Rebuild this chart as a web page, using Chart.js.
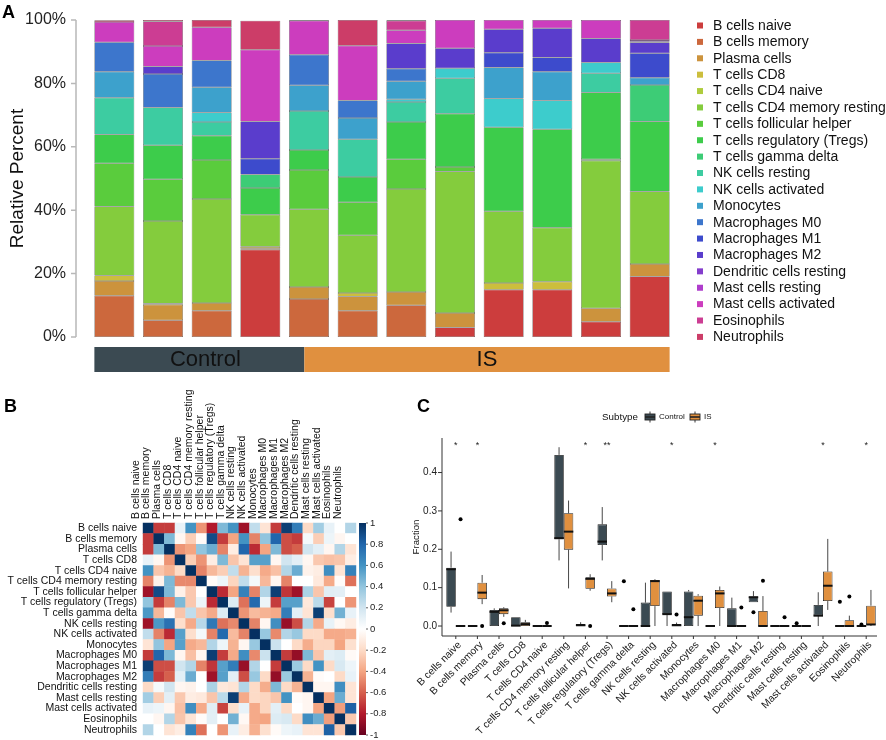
<!DOCTYPE html>
<html>
<head>
<meta charset="utf-8">
<script src="https://cdn.jsdelivr.net/npm/chart.js@4.4.1/dist/chart.umd.min.js"></script>
<style>
  body { margin: 0; background: #fff; overflow: hidden; width: 886px; height: 740px; position: relative; }
  canvas { position: absolute; }
  .tag { position: absolute; font: bold 18px 'Liberation Sans', Arial, sans-serif; line-height: 18px; color: #000; }
</style>
</head>
<body>
<canvas id="barChart" width="886" height="380" style="left:0;top:0"></canvas>
<canvas id="corrChart" width="400" height="360" style="left:0;top:380px"></canvas>
<canvas id="boxChart" width="486" height="360" style="left:400px;top:380px"></canvas>
<div class="tag" style="left:2px;top:3px">A</div>
<div class="tag" style="left:4px;top:397px">B</div>
<div class="tag" style="left:417px;top:397px">C</div>
<script>
const fontFam = "'Liberation Sans', Arial, Helvetica, sans-serif";

const cellTypes = ['B cells naive', 'B cells memory', 'Plasma cells', 'T cells CD8', 'T cells CD4 naive',
  'T cells CD4 memory resting', 'T cells follicular helper', 'T cells regulatory (Tregs)', 'T cells gamma delta',
  'NK cells resting', 'NK cells activated', 'Monocytes', 'Macrophages M0', 'Macrophages M1', 'Macrophages M2',
  'Dendritic cells resting', 'Mast cells resting', 'Mast cells activated', 'Eosinophils', 'Neutrophils'];

const samples = ['Control 1', 'Control 2', 'Control 3', 'Control 4', 'IS 1', 'IS 2', 'IS 3', 'IS 4', 'IS 5', 'IS 6', 'IS 7', 'IS 8'];
const groupNames = ['Control', 'IS'];

// panel A: relative percent of each cell type, one value per sample (left to right)
const bNaive        = [0, 0, 0, 27.5, 0, 0, 0, 3.0, 14.9, 14.9, 4.8, 19.1];
const bMemory       = [13.0, 5.3, 8.3, 0, 12.0, 8.3, 10.0, 0, 0, 0, 0, 0];
const plasma        = [4.7, 4.9, 2.4, 0.5, 3.8, 4.5, 4.2, 4.6, 0, 0, 4.3, 3.9];
const tCD8          = [1.7, 0.4, 0, 0.5, 0, 1.1, 0, 0, 2.1, 2.5, 0, 0];
const tCD4Naive     = [0, 0, 0, 0, 0, 0, 0, 0, 0, 0, 0, 0];
const tCD4MemRest   = [21.8, 26.0, 32.8, 10.1, 24.5, 18.2, 32.5, 44.6, 22.7, 17.1, 46.5, 22.9];
const tFollicular   = [13.6, 13.2, 12.3, 0, 12.4, 10.4, 9.4, 1.4, 0, 0, 0.5, 0];
const tRegs         = [9.1, 10.7, 7.7, 8.4, 6.3, 8.0, 11.7, 16.8, 26.5, 31.0, 21.0, 22.1];
const tGammaDelta   = [0, 0, 0, 4.3, 0, 0, 0, 0, 0, 0, 0, 11.5];
const nkResting     = [11.6, 11.9, 4.3, 0, 12.3, 11.9, 6.3, 11.2, 0, 0, 6.1, 0];
const nkActivated   = [0, 0, 3.0, 0, 0, 0, 0.9, 3.2, 9.0, 9.1, 3.4, 0];
const monocytes     = [8.2, 0, 8.0, 0, 8.1, 6.7, 5.7, 0, 9.8, 9.1, 0, 2.3];
const macM0         = [9.3, 10.6, 8.4, 0, 9.6, 5.5, 3.9, 0, 0, 0, 0, 0];
const macM1         = [0, 0, 0, 4.9, 0, 0, 0, 0, 4.7, 4.5, 0, 7.7];
const macM2         = [0, 2.3, 0, 11.8, 0, 0, 8.0, 6.3, 7.4, 9.2, 7.6, 3.4];
const dcResting     = [0, 0, 0, 0, 0, 0, 0, 0, 0, 0, 0, 0.4];
const mastResting   = [0, 0, 0, 0, 0, 0, 0, 0, 0, 0, 0, 0.4];
const mastActivated = [6.4, 6.5, 10.5, 22.6, 10.8, 17.3, 4.2, 8.9, 2.9, 2.6, 5.8, 0];
const eosinophils   = [0, 7.7, 0, 0, 0, 0, 3.0, 0, 0, 0, 0, 6.3];
const neutrophils   = [0.5, 0.5, 2.3, 9.2, 0.2, 8.1, 0.2, 0, 0, 0, 0, 0];

const fractions = [bNaive, bMemory, plasma, tCD8, tCD4Naive, tCD4MemRest, tFollicular, tRegs, tGammaDelta,
  nkResting, nkActivated, monocytes, macM0, macM1, macM2, dcResting, mastResting, mastActivated, eosinophils, neutrophils];

const palette = ['#CC3D3D', '#CC683D', '#CC933D', '#CCBE3D', '#AFCC3D', '#84CC3D', '#5ACC3D', '#3DCC4B', '#3DCC76', '#3DCCA1',
  '#3DCCCC', '#3DA1CC', '#3D76CC', '#3D4BCC', '#5A3DCC', '#843DCC', '#AF3DCC', '#CC3DBE', '#CC3D93', '#CC3D68'];

// panel B: correlation matrix, rows in cellTypes order
const corrRows = [
  [1, -0.7, -0.7, 0.1, 0.6, -0.45, -0.8, 0.45, 0.6, -0.85, 0.25, -0.15, -0.7, 0.95, 0.7, -0.2, 0.35, 0.1, 0, 0.3],
  [-0.7, 1, 0.45, -0.05, -0.25, -0.03, 0.9, -0.7, -0.4, 0.6, -0.5, 0.4, 0.8, -0.65, -0.7, 0.05, -0.25, 0.08, -0.05, 0],
  [-0.7, 0.45, 1, -0.45, -0.4, 0.4, 0.5, -0.5, -0.1, 0.8, -0.75, -0.4, 0.45, -0.65, -0.6, 0.2, 0.12, -0.05, 0.3, -0.15],
  [0.1, -0.05, -0.45, 1, -0.25, -0.45, -0.1, 0.45, -0.28, -0.15, 0.55, 0.55, -0.05, 0.2, 0.12, -0.05, -0.27, -0.3, -0.28, -0.1],
  [0.6, -0.28, -0.35, -0.2, 1, -0.5, -0.33, -0.25, 0.25, -0.35, -0.18, -0.38, -0.3, 0.3, 0.5, -0.07, -0.1, 0.62, -0.15, 0.68],
  [-0.5, -0.07, 0.45, -0.48, -0.48, 1, -0.02, 0.08, -0.22, 0.25, 0.05, -0.33, -0.05, -0.5, 0, 0, -0.12, -0.38, -0.02, -0.55],
  [-0.85, 0.9, 0.45, -0.08, -0.27, 0, 1, -0.75, -0.4, 0.68, -0.5, 0.3, 0.95, -0.72, -0.85, 0.32, -0.28, 0.13, 0.12, 0],
  [0.4, -0.7, -0.5, 0.45, -0.27, 0.08, -0.75, 1, 0.15, -0.55, 0.78, 0.08, -0.7, 0.55, 0.55, -0.13, 0.27, -0.68, 0, -0.45],
  [0.58, -0.33, -0.02, -0.28, 0.25, -0.28, -0.38, 0.15, 1, -0.45, -0.32, -0.35, -0.38, 0.7, 0.12, -0.15, 0.95, -0.18, 0.48, 0.1],
  [-0.85, 0.58, 0.75, -0.18, -0.38, 0.28, 0.72, -0.55, -0.48, 1, -0.5, -0.05, 0.62, -0.87, -0.65, 0.3, -0.38, 0.1, -0.04, -0.1],
  [0.25, -0.5, -0.75, 0.55, -0.18, 0.05, -0.5, 0.78, -0.32, -0.5, 1, 0.38, -0.48, 0.3, 0.38, -0.2, -0.2, -0.38, -0.38, -0.36],
  [-0.15, 0.4, -0.4, 0.55, -0.38, -0.33, 0.3, 0.08, -0.35, -0.05, 0.38, 1, 0.22, 0, -0.2, -0.37, -0.22, -0.22, -0.4, -0.17],
  [-0.7, 0.8, 0.45, -0.05, -0.3, -0.05, 0.95, -0.7, -0.38, 0.62, -0.48, 0.22, 1, -0.7, -0.88, 0.45, -0.28, 0.12, 0.15, -0.03],
  [0.95, -0.65, -0.65, 0.2, 0.3, -0.5, -0.72, 0.55, 0.7, -0.87, 0.3, 0, -0.7, 1, 0.37, -0.2, 0.6, -0.2, 0.17, 0.08],
  [0.7, -0.7, -0.6, 0.12, 0.5, 0, -0.85, 0.55, 0.12, -0.65, 0.38, -0.2, -0.88, 0.37, 1, -0.35, -0.02, 0, -0.2, 0.1],
  [-0.2, 0.05, 0.2, -0.05, -0.07, 0, 0.32, -0.13, -0.15, 0.3, -0.2, -0.37, 0.45, -0.2, -0.35, 1, -0.05, -0.05, 0.62, -0.15],
  [0.35, -0.25, 0.12, -0.27, -0.1, -0.12, -0.28, 0.27, 0.95, -0.38, -0.2, -0.22, -0.28, 0.6, -0.02, -0.05, 1, -0.4, 0.5, -0.15],
  [0.1, 0.08, -0.05, -0.3, 0.62, -0.38, 0.13, -0.68, -0.18, 0.1, -0.38, -0.22, 0.12, -0.2, 0, -0.05, -0.4, 1, -0.42, 0.82],
  [0, -0.05, 0.3, -0.28, -0.15, -0.02, 0.12, 0, 0.48, -0.04, -0.38, -0.4, 0.15, 0.17, -0.2, 0.62, 0.5, -0.42, 1, -0.27],
  [0.3, 0, -0.15, -0.1, 0.68, -0.55, 0, -0.45, 0.1, -0.1, -0.36, -0.17, -0.03, 0.08, 0.1, -0.15, -0.15, 0.82, -0.27, 1]
];
const rdbuStops = ['#67001F', '#B2182B', '#D6604D', '#F4A582', '#FDDBC7', '#FFFFFF', '#D1E5F0', '#92C5DE', '#4393C3', '#2166AC', '#053061'];

// panel C: box plot stats per cell type
const ctrlLo  = [0.035, 0, 0, 0, 0, 0.171, 0, 0.171, 0, 0, 0, 0, 0, 0, 0.062, 0, 0, 0, 0, 0];
const ctrlQ1  = [0.050, 0, 0, 0, 0, 0.226, 0, 0.211, 0, 0, 0.031, 0, 0, 0, 0.062, 0, 0, 0.027, 0, 0];
const ctrlMed = [0.148, 0, 0.037, 0.001, 0, 0.229, 0.002, 0.220, 0, 0, 0.031, 0.023, 0, 0, 0.075, 0, 0, 0.027, 0, 0];
const ctrlQ3  = [0.152, 0, 0.042, 0.023, 0, 0.446, 0.005, 0.265, 0, 0.061, 0.090, 0.090, 0, 0.046, 0.077, 0, 0, 0.055, 0, 0];
const ctrlHi  = [0.194, 0, 0.046, 0.023, 0, 0.466, 0.010, 0.310, 0, 0.113, 0.090, 0.094, 0, 0.074, 0.091, 0, 0, 0.088, 0, 0];
const ctrlOut = [[], [], [], [], [], [], [], [], [0.117], [], [], [], [], [], [0.036], [], [0.007], [], [0.063], [0.004]];

const isLo  = [0, 0.057, 0.024, 0, 0, 0.098, 0.092, 0.062, 0, 0, 0, 0, 0, 0, 0, 0, 0, 0.042, 0, 0];
const isQ1  = [0, 0.070, 0.031, 0, 0, 0.199, 0.097, 0.077, 0, 0.052, 0, 0.027, 0.047, 0, 0, 0, 0, 0.065, 0, 0.003];
const isMed = [0, 0.087, 0.041, 0.005, 0, 0.246, 0.123, 0.085, 0, 0.117, 0.002, 0.066, 0.085, 0, 0, 0, 0, 0.105, 0, 0.004];
const isQ3  = [0, 0.113, 0.046, 0.010, 0, 0.294, 0.127, 0.098, 0, 0.120, 0.005, 0.079, 0.094, 0, 0.039, 0, 0, 0.142, 0.015, 0.053];
const isHi  = [0, 0.133, 0.049, 0.016, 0, 0.327, 0.135, 0.117, 0, 0.122, 0.009, 0.083, 0.103, 0, 0.078, 0, 0, 0.227, 0.027, 0.094];
const isOut = [[0.278], [0], [0.007], [], [0.008], [], [0], [], [0.0435], [], [0.030], [], [], [0.048], [0.118], [0.023], [], [], [0.077], []];

const sigMarks = ['*', '*', '', '', '', '', '*', '**', '', '', '*', '', '*', '', '', '', '', '*', '', '*'];
const sigLevel = 0.478;

const ctrlColor = '#3B4A52';
const isColor = '#E0903F';

Chart.defaults.font.family = fontFam;
Chart.defaults.color = '#1a1a1a';
Chart.defaults.animation = false;
Chart.defaults.events = [];
Chart.defaults.plugins.legend.display = false;
Chart.defaults.plugins.tooltip.enabled = false;

function hexRgb(h) {
  return [1, 3, 5].map(i => parseInt(h.substr(i, 2), 16));
}
function rdbu(v) {
  const n = rdbuStops.length - 1;
  const t = Math.max(0, Math.min(1, (v + 1) / 2)) * n;
  const i = Math.min(Math.floor(t), n - 1);
  const f = t - i;
  const a = hexRgb(rdbuStops[i]), b = hexRgb(rdbuStops[i + 1]);
  return 'rgb(' + a.map((c, k) => Math.round(c + (b[k] - c) * f)).join(',') + ')';
}
// fixed axis width, and no extra room for the end labels
function fixWidth(w) {
  return s => { s.width = w; s.paddingTop = 0; s.paddingBottom = 0; };
}

// ---------- panel A ----------
const panelAExtras = {
  id: 'panelAExtras',
  afterDraw(chart) {
    const { ctx, chartArea: area, scales: { y } } = chart;
    ctx.save();
    // grey y axis line sitting left of the bars
    const ax = area.left - 14;
    ctx.strokeStyle = '#b8b8b8';
    ctx.lineWidth = 1.5;
    ctx.beginPath();
    ctx.moveTo(ax, y.getPixelForValue(0));
    ctx.lineTo(ax, y.getPixelForValue(100));
    y.ticks.forEach(t => {
      const py = y.getPixelForValue(t.value);
      ctx.moveTo(ax - 5, py);
      ctx.lineTo(ax, py);
    });
    ctx.stroke();

    // group strip under the bars
    const bars = chart.getDatasetMeta(0).data;
    const first = bars[0], last = bars[bars.length - 1];
    const x0 = first.x - first.width / 2, x1 = last.x + last.width / 2;
    const split = x0 + (x1 - x0) * 0.365;
    const segs = [[x0, split, ctrlColor], [split, x1, isColor]];
    ctx.font = '22px ' + fontFam;
    ctx.textAlign = 'center';
    ctx.textBaseline = 'middle';
    segs.forEach((s, i) => {
      ctx.fillStyle = s[2];
      ctx.fillRect(s[0], 347, s[1] - s[0], 25);
      ctx.fillStyle = '#111';
      ctx.fillText(groupNames[i], (s[0] + s[1]) / 2 + (i === 0 ? 6 : 0), 360);
    });

    // legend
    ctx.font = '14px ' + fontFam;
    ctx.textAlign = 'left';
    chart.data.datasets.forEach((ds, i) => {
      const cy = 25.5 + i * 16.39;
      ctx.fillStyle = ds.backgroundColor;
      ctx.fillRect(697, cy - 3, 6, 6);
      ctx.fillStyle = '#111';
      ctx.fillText(ds.label, 713, cy + 0.5);
    });
    ctx.restore();
  }
};

new Chart(document.getElementById('barChart'), {
  type: 'bar',
  data: {
    labels: samples,
    datasets: cellTypes.map((name, i) => ({
      label: name,
      data: fractions[i],
      backgroundColor: palette[i],
      borderColor: '#3a3a3a',
      borderWidth: 0.5,
      borderSkipped: false,
      barPercentage: 0.82,
      categoryPercentage: 1
    }))
  },
  options: {
    responsive: false,
    layout: { padding: { top: 20, bottom: 43, left: 0, right: 212 } },
    scales: {
      x: { stacked: true, display: false },
      y: {
        stacked: true, min: 0, max: 100,
        grid: { display: false, drawTicks: false },
        border: { display: false },
        ticks: { stepSize: 20, padding: 24, color: '#222', font: { size: 16 }, callback: v => v + '%' },
        title: { display: true, text: 'Relative Percent', color: '#111', font: { size: 19 }, padding: { top: 6, bottom: 0 } },
        afterFit: fixWidth(90)
      }
    }
  },
  plugins: [panelAExtras]
});

// ---------- panel B ----------
const cells = [];
corrRows.forEach((row, r) => row.forEach((v, c) => cells.push({ x: cellTypes[c], y: cellTypes[r], v })));

const colorBar = {
  id: 'colorBar',
  afterDraw(chart) {
    const { ctx, chartArea: area, scales: { cb } } = chart;
    const top = cb.getPixelForValue(1), bot = cb.getPixelForValue(-1);
    const g = ctx.createLinearGradient(0, bot, 0, top);
    rdbuStops.forEach((c, i) => g.addColorStop(i / (rdbuStops.length - 1), c));
    ctx.save();
    ctx.fillStyle = g;
    ctx.fillRect(area.right + 3, top, 7, bot - top);
    ctx.strokeStyle = '#333';
    ctx.lineWidth = 0.8;
    ctx.beginPath();
    cb.ticks.forEach(t => {
      const py = cb.getPixelForValue(t.value);
      ctx.moveTo(area.right + 10, py);
      ctx.lineTo(area.right + 12, py);
    });
    ctx.stroke();
    ctx.restore();
  }
};

const cellRadius = ctx => {
  const a = ctx.chart.chartArea;
  return a ? (a.right - a.left) / cellTypes.length / Math.SQRT2 + 0.3 : 5;
};

new Chart(document.getElementById('corrChart'), {
  type: 'scatter',
  data: {
    datasets: [{
      data: cells,
      pointStyle: 'rect',
      pointBorderWidth: 0,
      pointRadius: cellRadius,
      pointHoverRadius: cellRadius,
      pointBackgroundColor: ctx => rdbu(ctx.raw ? ctx.raw.v : 0)
    }]
  },
  options: {
    responsive: false,
    layout: { padding: { top: 0, bottom: 5, left: 0, right: 0 } },
    scales: {
      x: {
        type: 'category', labels: cellTypes, position: 'top', offset: true,
        grid: { display: false, drawTicks: false }, border: { display: false },
        ticks: { autoSkip: false, minRotation: 90, maxRotation: 90, padding: 4, color: '#111', font: { size: 10.5 } },
        afterFit(s) { s.height = 143; }
      },
      y: {
        type: 'category', labels: cellTypes, position: 'left', offset: true,
        grid: { display: false, drawTicks: false }, border: { display: false },
        ticks: { autoSkip: false, padding: 6, color: '#111', font: { size: 10.5 } },
        afterFit: fixWidth(143)
      },
      cb: {
        type: 'linear', position: 'right', min: -1, max: 1,
        grid: { display: false, drawTicks: false }, border: { display: false },
        ticks: { stepSize: 0.2, padding: 14, color: '#222', font: { size: 9.5 },
          callback: v => String(Math.round(v * 10) / 10) },
        afterFit: fixWidth(44)
      }
    }
  },
  plugins: [colorBar]
});

// ---------- panel C ----------
const boxExtras = {
  id: 'boxExtras',
  beforeDatasetsDraw(chart) {
    const { ctx, scales: { y } } = chart;
    ctx.save();
    ctx.strokeStyle = '#333';
    ctx.lineWidth = 0.9;
    chart.data.datasets.forEach((ds, d) => {
      chart.getDatasetMeta(d).data.forEach((el, i) => {
        const [q1, q3] = ds.data[i];
        ctx.beginPath();
        ctx.moveTo(el.x, y.getPixelForValue(q3));
        ctx.lineTo(el.x, y.getPixelForValue(ds.stats.hi[i]));
        ctx.moveTo(el.x, y.getPixelForValue(q1));
        ctx.lineTo(el.x, y.getPixelForValue(ds.stats.lo[i]));
        ctx.stroke();
      });
    });
    ctx.restore();
  },
  afterDatasetsDraw(chart) {
    const { ctx, scales: { y } } = chart;
    ctx.save();
    chart.data.datasets.forEach((ds, d) => {
      chart.getDatasetMeta(d).data.forEach((el, i) => {
        const py = y.getPixelForValue(ds.stats.med[i]);
        ctx.strokeStyle = '#111';
        ctx.lineWidth = 2;
        ctx.beginPath();
        ctx.moveTo(el.x - el.width / 2, py);
        ctx.lineTo(el.x + el.width / 2, py);
        ctx.stroke();
        ctx.fillStyle = '#000';
        ds.stats.out[i].forEach(v => {
          ctx.beginPath();
          ctx.arc(el.x, y.getPixelForValue(v), 2, 0, Math.PI * 2);
          ctx.fill();
        });
      });
    });
    ctx.restore();
  },
  afterDraw(chart) {
    const { ctx, chartArea: area, scales: { x, y } } = chart;
    ctx.save();
    const ax = area.left - 3;
    ctx.strokeStyle = '#333';
    ctx.lineWidth = 1;
    ctx.beginPath();
    ctx.moveTo(ax, area.top);
    ctx.lineTo(ax, area.bottom);
    ctx.lineTo(area.right, area.bottom);
    y.ticks.forEach(t => {
      const py = y.getPixelForValue(t.value);
      ctx.moveTo(ax - 4, py);
      ctx.lineTo(ax, py);
    });
    x.ticks.forEach((t, i) => {
      const px = x.getPixelForValue(i);
      ctx.moveTo(px, area.bottom);
      ctx.lineTo(px, area.bottom + 3);
    });
    ctx.stroke();

    // significance marks
    ctx.fillStyle = '#222';
    ctx.font = '9px ' + fontFam;
    ctx.textAlign = 'center';
    ctx.textBaseline = 'alphabetic';
    sigMarks.forEach((m, i) => {
      if (m) ctx.fillText(m, x.getPixelForValue(i), y.getPixelForValue(sigLevel) + 5);
    });

    // legend
    const ly = 37;
    ctx.textAlign = 'left';
    ctx.textBaseline = 'middle';
    ctx.font = '9.8px ' + fontFam;
    ctx.fillStyle = '#111';
    ctx.fillText('Subtype', 202, ly);
    const keyX = [245, 290];
    ctx.font = '8px ' + fontFam;
    chart.data.datasets.forEach((ds, d) => {
      const kx = keyX[d];
      ctx.strokeStyle = '#222';
      ctx.lineWidth = 0.9;
      ctx.beginPath();
      ctx.moveTo(kx + 5, ly - 5.5);
      ctx.lineTo(kx + 5, ly + 5.5);
      ctx.stroke();
      ctx.fillStyle = ds.backgroundColor;
      ctx.fillRect(kx, ly - 3, 10, 6);
      ctx.strokeRect(kx, ly - 3, 10, 6);
      ctx.lineWidth = 1.6;
      ctx.beginPath();
      ctx.moveTo(kx, ly);
      ctx.lineTo(kx + 10, ly);
      ctx.stroke();
      ctx.fillStyle = '#111';
      ctx.fillText(ds.label, kx + 14, ly);
    });
    ctx.restore();
  }
};

new Chart(document.getElementById('boxChart'), {
  type: 'bar',
  data: {
    labels: cellTypes,
    datasets: [
      {
        label: 'Control',
        data: ctrlQ1.map((q, i) => [q, ctrlQ3[i]]),
        stats: { lo: ctrlLo, med: ctrlMed, hi: ctrlHi, out: ctrlOut },
        backgroundColor: ctrlColor, borderColor: '#1a1a1a', borderWidth: 0.8, borderSkipped: false,
        barPercentage: 1, categoryPercentage: 0.88
      },
      {
        label: 'IS',
        data: isQ1.map((q, i) => [q, isQ3[i]]),
        stats: { lo: isLo, med: isMed, hi: isHi, out: isOut },
        backgroundColor: isColor, borderColor: '#1a1a1a', borderWidth: 0.8, borderSkipped: false,
        barPercentage: 1, categoryPercentage: 0.88
      }
    ]
  },
  options: {
    responsive: false,
    layout: { padding: { top: 58, bottom: 0, left: 0, right: 9 } },
    scales: {
      x: {
        grid: { display: false, drawTicks: false }, border: { display: false },
        ticks: { autoSkip: false, minRotation: 45, maxRotation: 45, padding: 3, labelOffset: 4, color: '#222', font: { size: 10.3 } },
        afterFit(s) { s.height = 104; s.paddingLeft = 0; s.paddingRight = 0; }
      },
      y: {
        min: -0.026, max: 0.49,
        grid: { display: false, drawTicks: false }, border: { display: false },
        ticks: { stepSize: 0.1, includeBounds: false, padding: 8, color: '#222', font: { size: 10 },
          callback: v => v.toFixed(1) },
        title: { display: true, text: 'Fraction', color: '#111', font: { size: 9.7 }, padding: { top: 11, bottom: 0 } },
        afterFit: fixWidth(45)
      }
    }
  },
  plugins: [boxExtras]
});
</script>
</body>
</html>
